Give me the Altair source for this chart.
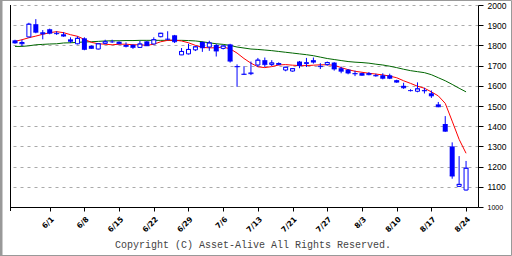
import altair as alt
import pandas as pd

# ---- data (candle index 0..65) ----
opens = [1825, 1817, 1842, 1905, 1865, 1880, 1862, 1855, 1830, 1808,
         1835, 1798, 1782, 1810, 1818, 1818, 1802, 1803, 1790, 1820,
         1807, 1843, 1833, 1850, 1753, 1758, 1778, 1817, 1792, 1802,
         1785, 1805, 1698, 1660, 1666, 1703, 1727, 1705, 1713, 1678,
         1673, 1720, 1710, 1727, 1699, 1705, 1715, 1687, 1680, 1663,
         1663, 1663, 1653, 1652, 1652, 1628, 1600, 1579, 1573, 1579,
         1563, 1508, 1411, 1300, 1102, 1084]
highs = [1828, 1828, 1912, 1930, 1876, 1883, 1870, 1866, 1840, 1845,
         1840, 1800, 1810, 1828, 1828, 1820, 1815, 1805, 1822, 1822,
         1840, 1862, 1870, 1852, 1787, 1808, 1797, 1820, 1823, 1808,
         1800, 1808, 1706, 1697, 1720, 1738, 1740, 1727, 1716, 1694,
         1688, 1723, 1738, 1740, 1712, 1720, 1717, 1695, 1683, 1675,
         1665, 1668, 1660, 1662, 1660, 1630, 1615, 1583, 1617, 1590,
         1577, 1520, 1450, 1320, 1252, 1228]
lows = [1808, 1797, 1840, 1860, 1830, 1855, 1852, 1843, 1812, 1805,
        1776, 1783, 1780, 1806, 1812, 1806, 1790, 1783, 1788, 1797,
        1805, 1840, 1825, 1812, 1752, 1755, 1772, 1768, 1773, 1745,
        1780, 1715, 1595, 1655, 1653, 1693, 1693, 1698, 1702, 1672,
        1670, 1687, 1693, 1710, 1683, 1700, 1675, 1662, 1657, 1648,
        1650, 1652, 1645, 1632, 1633, 1615, 1585, 1572, 1568, 1562,
        1540, 1494, 1372, 1140, 1100, 1082]
closes = [1812, 1808, 1905, 1865, 1857, 1860, 1858, 1846, 1820, 1835,
          1780, 1785, 1808, 1818, 1817, 1808, 1795, 1790, 1807, 1798,
          1828, 1860, 1830, 1818, 1770, 1780, 1793, 1788, 1812, 1772,
          1797, 1722, 1694, 1656, 1660, 1727, 1705, 1713, 1705, 1692,
          1685, 1700, 1714, 1717, 1695, 1715, 1683, 1672, 1663, 1659,
          1652, 1655, 1649, 1637, 1637, 1618, 1590, 1576, 1585, 1575,
          1550, 1496, 1375, 1153, 1112, 1192]
ma_short = [1820, 1828, 1838, 1846, 1855, 1863, 1868, 1863, 1853, 1845,
            1830, 1815, 1808, 1806, 1803, 1806, 1806, 1803, 1803, 1800,
            1806, 1818, 1825, 1826, 1822, 1813, 1800, 1790, 1788, 1788,
            1792, 1783, 1762, 1735, 1712, 1694, 1690, 1695, 1703, 1705,
            1702, 1700, 1700, 1702, 1704, 1704, 1702, 1690, 1680, 1672,
            1667, 1662, 1658, 1654, 1648, 1640, 1625, 1612, 1598, 1588,
            1570, 1550, 1513, 1425, 1335, 1266]
ma_long = [1795, 1795, 1798, 1803, 1805, 1807, 1808, 1812, 1813, 1815,
           1817, 1818, 1820, 1822, 1823, 1823, 1824, 1824, 1825, 1825,
           1825, 1825, 1825, 1825, 1825, 1824, 1822, 1818, 1813, 1808,
           1805, 1800, 1792, 1787, 1782, 1780, 1777, 1774, 1770, 1766,
           1762, 1758, 1754, 1749, 1742, 1735, 1730, 1725, 1720, 1717,
           1715, 1712, 1707, 1703, 1697, 1690, 1682, 1675, 1670, 1665,
           1655, 1640, 1625, 1607, 1588, 1570]

tick_pos = [5, 10, 15, 20, 25, 30, 35, 40, 45, 50, 55, 60, 65]
tick_labels = ["6/1", "6/8", "6/15", "6/22", "6/29", "7/6", "7/13",
               "7/21", "7/27", "8/3", "8/10", "8/17", "8/24"]
y_ticks = [1000, 1100, 1200, 1300, 1400, 1500, 1600, 1700, 1800, 1900, 2000]
copyright_text = "Copyright (C) Asset-Alive All Rights Reserved."

BLUE = "#0000ff"
RED = "#ff0000"
GREEN = "#006600"

df = pd.DataFrame({
    "i": list(range(len(opens))),
    "open": opens, "high": highs, "low": lows, "close": closes,
    "ma_short": ma_short, "ma_long": ma_long,
})
df["up"] = df["close"] >= df["open"]

label_expr = " : ".join(
    f"datum.value == {p} ? '{l}'" for p, l in zip(tick_pos, tick_labels)
) + " : ''"

x_scale = alt.Scale(domain=[0, 66], nice=False, zero=False)
x_axis = alt.Axis(
    values=tick_pos, labelExpr=label_expr, labelAngle=-45,
    labelAlign="right", labelBaseline="top", labelFont="DejaVu Sans",
    labelFontSize=7.5, labelFontWeight="bold", labelColor="#000000",
    tickSize=4, tickColor="#000000", domainColor="#000000",
    labelPadding=4, grid=False, title=None, labelOverlap=False,
    labelFlush=False,
)
y_scale = alt.Scale(domain=[1000, 2000], nice=False, zero=False)
y_axis = alt.Axis(
    orient="right", values=y_ticks, format="d", grid=True, gridColor="#aaaaaa",
    gridDash=[3, 4], gridWidth=1, tickSize=5, tickColor="#000000",
    domainColor="#000000", labelFont="Liberation Sans",
    labelFontSize={"condition": {"test": "datum.value == 1000", "value": 7}, "value": 8.5},
    labelColor="#000000", labelPadding=4, labelBaseline="middle",
    title=None, labelOverlap=False, labelFlush=False,
)


def xq():
    return alt.X("i:Q", scale=x_scale, axis=x_axis, title=None)


def yq(field):
    return alt.Y(f"{field}:Q", scale=y_scale, axis=y_axis, title=None)


base = alt.Chart(df)

line_long = base.mark_line(color=GREEN, strokeWidth=1).encode(x=xq(), y=yq("ma_long"))
line_short = base.mark_line(color=RED, strokeWidth=1).encode(x=xq(), y=yq("ma_short"))
wicks = base.mark_rule(color=BLUE, strokeWidth=1).encode(
    x=xq(), y=yq("low"), y2="high")
down_bodies = base.transform_filter("!datum.up").mark_bar(
    size=5, color=BLUE).encode(x=xq(), y=yq("open"), y2="close")
up_bodies = base.transform_filter("datum.up").mark_bar(
    size=4, fill="white", stroke=BLUE, strokeWidth=1).encode(
    x=xq(), y=yq("open"), y2="close")
close_ticks = base.mark_tick(
    orient="horizontal", size=5, thickness=1, color=BLUE).encode(
    x=xq(), y=yq("close"))

one = pd.DataFrame({"k": [0]})
left_line = alt.Chart(one).mark_rule(color="#000000", strokeWidth=1).encode(
    x=alt.value(0.5), y=alt.value(0), y2=alt.value(206))
frame = alt.Chart(one).mark_rect(
    fill="transparent", stroke="#999999", strokeWidth=1).encode(
    x=alt.value(-9.5), x2=alt.value(501.5), y=alt.value(-4.5), y2=alt.value(250.5))
left_bar = alt.Chart(one).mark_rect(color="#999999").encode(
    x=alt.value(-10), x2=alt.value(-7.5), y=alt.value(-5), y2=alt.value(251))
copyright_mark = alt.Chart(one).mark_text(
    font="Liberation Mono", fontSize=10, color="#444444",
    align="center", baseline="alphabetic").encode(
    x=alt.value(243), y=alt.value(243), text=alt.value(copyright_text))

chart = alt.layer(
    line_long, line_short, wicks, down_bodies, up_bodies, close_ticks,
    left_line, frame, left_bar, copyright_mark,
).properties(
    width=468, height=202,
    autosize=alt.AutoSizeParams(type="none"),
    padding={"left": 10, "top": 5, "right": 34, "bottom": 49},
    background="white",
).configure_view(stroke=None)

chart.save("out.html", embed_options={"renderer": "svg", "actions": False})
